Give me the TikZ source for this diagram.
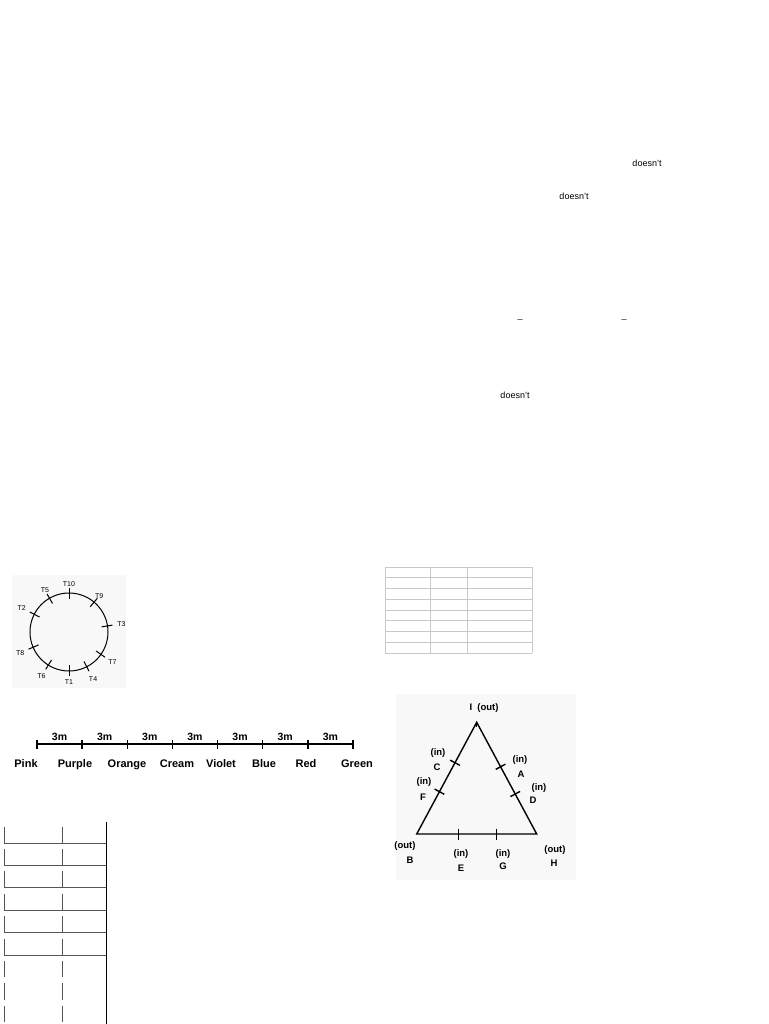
\documentclass[tikz,border=0pt]{standalone}
\usepackage{fontspec}
\setmainfont{Liberation Sans}
\usetikzlibrary{positioning,calc}
\tikzstyle{page} = [x = 1pt, y = -1pt]
\definecolor{tableGray}{RGB}{200,200,200}
\definecolor{ladderGray}{RGB}{85,85,85}
\definecolor{scanBack}{RGB}{248,248,248}
\tikzstyle{noteText} = [font=\fontsize{9}{10}\selectfont, inner sep=0pt]
\tikzstyle{tickLabel} = [font=\fontsize{7}{8}\selectfont, inner sep=0pt]
\tikzstyle{colourText} = [font=\fontsize{11}{12}\selectfont\bfseries, inner sep=0pt, anchor=base]
\tikzstyle{triText} = [font=\fontsize{9.5}{10}\selectfont\bfseries, inner sep=0pt]
\tikzstyle{markLine} = [color=black, line width=1pt]
\tikzstyle{ropeLine} = [color=black, line width=1.4pt]
\tikzstyle{grayGrid} = [color=tableGray, line width=0.8pt]
\tikzstyle{ladderLine} = [color=ladderGray, line width=1pt]
\tikzstyle{scanPatch} = [fill=scanBack, draw=none]
\newcommand{\ringTick}[3]{
  \draw [markLine] (ringCentre) ++(#1:33) -- ++(#1:11);
  \path (ringCentre) ++(#1:#3) node [tickLabel] (ring#2) {#2};
}
\newcommand{\sideTick}[4]{
  \coordinate (#1) at ($(#2)!#4!(#3)$);
  \draw [ropeLine] ($(#1)!5.5pt!90:(#3)$) -- ($(#1)!5.5pt!-90:(#3)$);
}
\begin{document}
\begin{tikzpicture}[page]
  \useasboundingbox [fill=white] (0,0) rectangle (768,1024);

  \node [noteText] (noteOne) at (647,163) {doesn't};
  \node [noteText] (noteTwo) at (574,196) {doesn't};
  \node [noteText] (dashOne) at (520,321) {–};
  \node [noteText] (dashTwo) at (624,321) {–};
  \node [noteText] (noteThree) at (515,395) {doesn't};

  \fill [scanPatch] (12,575) rectangle (126,688);
  \coordinate (ringCentre) at (69,632);
  \draw [markLine] (ringCentre) circle (39);
  \foreach \a/\t/\r in {-90/T10/48, -50/T9/47, -9/T3/53, 35/T7/53, 63/T4/53,
                        90/T1/50, 122/T6/52, 157/T8/53, -153/T2/53, -120/T5/48} {
    \ringTick{\a}{\t}{\r}
  }

  \foreach \i in {0,...,7} {
    \coordinate (stop\i) at ({37 + 45.14 * \i}, 744);
    \draw [ropeLine] (stop\i) ++(0,-4.5) -- ++(0,9);
  }
  \draw [ropeLine] (stop0) -- (stop7);
  \foreach \i in {0,...,6} {
    \node [colourText, font=\fontsize{10.5}{11}\selectfont\bfseries] (gap\i) at ({59.5 + 45.14 * \i}, 740) {3m};
  }
  \foreach \c/\x in {Pink/26, Purple/75, Orange/127, Cream/177, Violet/221, Blue/264, Red/306, Green/357} {
    \node [colourText] (colour\c) at (\x,767) {\c};
  }

  \foreach \x in {385, 430, 467, 532} {
    \draw [grayGrid] (\x,567) -- (\x,653);
  }
  \foreach \r in {0,...,8} {
    \draw [grayGrid] (385, {567 + 10.75 * \r}) -- (532, {567 + 10.75 * \r});
  }

  \fill [scanPatch] (396,694) rectangle (576,880);
  \coordinate (triI) at (476.7,722.3);
  \coordinate (triB) at (416.7,834);
  \coordinate (triH) at (536.7,834);
  \draw [ropeLine, line join=miter] (triB) -- (triI) -- (triH) -- cycle;
  \draw [ropeLine] (triI) -- ++(0,5);
  \sideTick{tickC}{triB}{triI}{0.638}
  \sideTick{tickF}{triB}{triI}{0.379}
  \sideTick{tickA}{triH}{triI}{0.602}
  \sideTick{tickD}{triH}{triI}{0.358}
  \sideTick{tickE}{triB}{triH}{0.347}
  \sideTick{tickG}{triB}{triH}{0.667}
  \node [triText] (labelI) at (484,708) {I\ \ (out)};
  \foreach \n/\tx/\ty/\t/\lx/\ly in {C/438/753/in/437/767, F/424/782/in/423/797,
      A/520/760/in/521/774, D/539/788/in/533/800, B/405/846/out/410/860,
      E/461/854/in/461/868, G/503/854/in/503/866, H/555/850/out/554/863} {
    \node [triText] (pin\n) at (\tx,\ty) {(\t)};
    \node [triText] (label\n) at (\lx,\ly) {\n};
  }

  \draw [markLine] (106,822) -- (106,1024);
  \foreach \row in {0,...,8} {
    \pgfmathsetmacro{\rowTop}{826.5 + 22.4 * \row}
    \pgfmathsetmacro{\rowEnd}{\rowTop + 16.5}
    \draw [ladderLine] (4,\rowTop) -- (4,\rowEnd);
    \draw [ladderLine] (62,\rowTop) -- (62,\rowEnd);
    \ifnum \row < 6
      \draw [ladderLine] (4,\rowEnd) -- (106,\rowEnd);
    \fi
  }
\end{tikzpicture}
\end{document}
